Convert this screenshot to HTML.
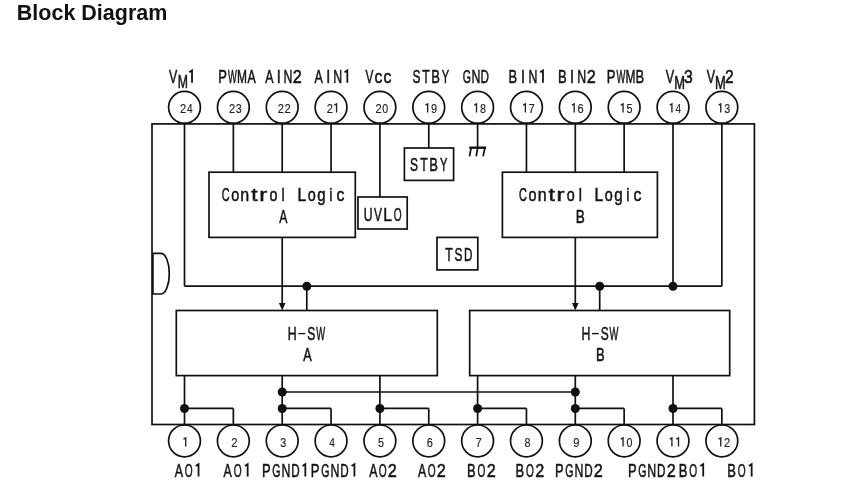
<!DOCTYPE html>
<html><head><meta charset="utf-8"><style>
html,body{margin:0;padding:0;background:#fff;width:860px;height:500px;overflow:hidden}
svg{display:block;will-change:transform}
.s line,.s rect,.s circle,.s path{fill:none;stroke:#111;stroke-width:1.7}
.s .d{fill:#111;stroke:none}
text{font-family:"Liberation Sans",sans-serif;fill:#141414}
.t{font-weight:normal;stroke:#141414;stroke-width:0.55}
.dash{fill:none;stroke:#141414;stroke-width:1.4}
.one{fill:none;stroke:#141414;stroke-width:1.8}
.title{font-weight:bold;font-size:21.5px;fill:#111}
.dg{fill:#222;stroke:#222;stroke-width:0.15}
.one2{fill:none;stroke:#222;stroke-width:1.35}
</style></head><body>
<svg width="860" height="500" viewBox="0 0 860 500">
<g class="s">
<rect x="152.00" y="123.90" width="602.40" height="300.60"/>
<path d="M152.0 253.3 H161 A8.3 20.35 0 0 1 161 294 H152.0"/>
<line x1="152.90" y1="253.30" x2="152.90" y2="294.00"/>
<circle cx="184.50" cy="107.30" r="15.9"/>
<circle cx="184.50" cy="440.90" r="15.9"/>
<circle cx="233.35" cy="107.30" r="15.9"/>
<circle cx="233.35" cy="440.90" r="15.9"/>
<circle cx="282.20" cy="107.30" r="15.9"/>
<circle cx="282.20" cy="440.90" r="15.9"/>
<circle cx="331.05" cy="107.30" r="15.9"/>
<circle cx="331.05" cy="440.90" r="15.9"/>
<circle cx="379.90" cy="107.30" r="15.9"/>
<circle cx="379.90" cy="440.90" r="15.9"/>
<circle cx="428.75" cy="107.30" r="15.9"/>
<circle cx="428.75" cy="440.90" r="15.9"/>
<circle cx="477.60" cy="107.30" r="15.9"/>
<circle cx="477.60" cy="440.90" r="15.9"/>
<circle cx="526.45" cy="107.30" r="15.9"/>
<circle cx="526.45" cy="440.90" r="15.9"/>
<circle cx="575.30" cy="107.30" r="15.9"/>
<circle cx="575.30" cy="440.90" r="15.9"/>
<circle cx="624.15" cy="107.30" r="15.9"/>
<circle cx="624.15" cy="440.90" r="15.9"/>
<circle cx="673.00" cy="107.30" r="15.9"/>
<circle cx="673.00" cy="440.90" r="15.9"/>
<circle cx="721.85" cy="107.30" r="15.9"/>
<circle cx="721.85" cy="440.90" r="15.9"/>
<line x1="184.50" y1="123.20" x2="184.50" y2="286.20"/>
<line x1="184.50" y1="286.20" x2="721.85" y2="286.20"/>
<line x1="721.85" y1="123.20" x2="721.85" y2="286.20"/>
<line x1="673.00" y1="123.20" x2="673.00" y2="286.20"/>
<line x1="233.35" y1="123.20" x2="233.35" y2="172.20"/>
<line x1="282.20" y1="123.20" x2="282.20" y2="172.20"/>
<line x1="331.05" y1="123.20" x2="331.05" y2="172.20"/>
<line x1="526.45" y1="123.20" x2="526.45" y2="172.20"/>
<line x1="575.30" y1="123.20" x2="575.30" y2="172.20"/>
<line x1="624.15" y1="123.20" x2="624.15" y2="172.20"/>
<line x1="379.90" y1="123.20" x2="379.90" y2="197.00"/>
<line x1="428.75" y1="123.20" x2="428.75" y2="148.00"/>
<line x1="477.60" y1="123.20" x2="477.60" y2="147.50"/>
<path d="M469.3 147.7 H486.1" style="stroke-width:2.4"/>
<path d="M471.1 147.7 L469.6 156.3" style="stroke-width:1.7"/>
<path d="M477.7 147.7 L476.2 156.3" style="stroke-width:1.7"/>
<path d="M484.9 147.7 L483.1 156.3" style="stroke-width:1.7"/>
<rect x="209.00" y="172.20" width="146.30" height="65.20"/>
<rect x="358.00" y="197.00" width="49.20" height="32.00"/>
<rect x="404.40" y="148.00" width="49.20" height="32.40"/>
<rect x="437.00" y="237.40" width="40.80" height="32.50"/>
<rect x="502.40" y="172.20" width="155.00" height="65.20"/>
<rect x="176.30" y="310.50" width="261.00" height="65.10"/>
<rect x="469.70" y="310.50" width="260.00" height="65.10"/>
<line x1="282.20" y1="237.40" x2="282.20" y2="304.50"/>
<path class="d" d="M278.90 303.00 L285.50 303.00 L282.20 310.50 Z"/>
<line x1="575.30" y1="237.40" x2="575.30" y2="304.50"/>
<path class="d" d="M572.00 303.00 L578.60 303.00 L575.30 310.50 Z"/>
<line x1="306.80" y1="286.20" x2="306.80" y2="310.50"/>
<circle class="d" cx="306.80" cy="286.20" r="4.5"/>
<line x1="599.70" y1="286.20" x2="599.70" y2="310.50"/>
<circle class="d" cx="599.70" cy="286.20" r="4.5"/>
<circle class="d" cx="673.00" cy="286.20" r="4.5"/>
<line x1="184.50" y1="375.60" x2="184.50" y2="424.50"/>
<line x1="184.50" y1="408.40" x2="233.35" y2="408.40"/>
<line x1="233.35" y1="408.40" x2="233.35" y2="424.50"/>
<circle class="d" cx="184.50" cy="408.50" r="4.5"/>
<line x1="282.20" y1="375.60" x2="282.20" y2="424.50"/>
<line x1="282.20" y1="408.40" x2="331.05" y2="408.40"/>
<line x1="331.05" y1="408.40" x2="331.05" y2="424.50"/>
<circle class="d" cx="282.20" cy="408.50" r="4.5"/>
<line x1="379.90" y1="375.60" x2="379.90" y2="424.50"/>
<line x1="379.90" y1="408.40" x2="428.75" y2="408.40"/>
<line x1="428.75" y1="408.40" x2="428.75" y2="424.50"/>
<circle class="d" cx="379.90" cy="408.50" r="4.5"/>
<line x1="477.60" y1="375.60" x2="477.60" y2="424.50"/>
<line x1="477.60" y1="408.40" x2="526.45" y2="408.40"/>
<line x1="526.45" y1="408.40" x2="526.45" y2="424.50"/>
<circle class="d" cx="477.60" cy="408.50" r="4.5"/>
<line x1="575.30" y1="375.60" x2="575.30" y2="424.50"/>
<line x1="575.30" y1="408.40" x2="624.15" y2="408.40"/>
<line x1="624.15" y1="408.40" x2="624.15" y2="424.50"/>
<circle class="d" cx="575.30" cy="408.50" r="4.5"/>
<line x1="673.00" y1="375.60" x2="673.00" y2="424.50"/>
<line x1="673.00" y1="408.40" x2="721.85" y2="408.40"/>
<line x1="721.85" y1="408.40" x2="721.85" y2="424.50"/>
<circle class="d" cx="673.00" cy="408.50" r="4.5"/>
<line x1="282.20" y1="392.00" x2="575.30" y2="392.00"/>
<circle class="d" cx="282.20" cy="392.00" r="4.5"/>
<circle class="d" cx="575.30" cy="392.00" r="4.5"/>
</g>
<text class="title" x="16.8" y="20.2">Block Diagram</text>
<text class="t" transform="translate(218.32 82.80) scale(0.675 1.000)" font-size="19.20">P</text>
<text class="t" transform="translate(228.01 82.80) scale(0.490 1.000)" font-size="19.20">W</text>
<text class="t" transform="translate(237.10 82.80) scale(0.623 1.000)" font-size="19.20">M</text>
<text class="t" transform="translate(247.58 82.80) scale(0.644 1.000)" font-size="19.20">A</text>
<text class="t" transform="translate(265.31 82.80) scale(0.644 1.000)" font-size="19.20">A</text>
<text class="t" transform="translate(276.72 82.80) scale(0.750 1.000)" font-size="19.20">I</text>
<text class="t" transform="translate(283.54 82.80) scale(0.643 1.000)" font-size="19.20">N</text>
<text class="t" transform="translate(292.77 82.80) scale(0.846 1.000)" font-size="19.20">2</text>
<text class="t" transform="translate(314.62 82.80) scale(0.644 1.000)" font-size="19.20">A</text>
<text class="t" transform="translate(326.27 82.80) scale(0.750 1.000)" font-size="19.20">I</text>
<text class="t" transform="translate(333.33 82.80) scale(0.643 1.000)" font-size="19.20">N</text>
<path class="one" d="M344.52 72.29 L347.32 70.49 V82.80"/>
<text class="t" transform="translate(365.59 82.80) scale(0.617 1.000)" font-size="19.20">V</text>
<text class="t" transform="translate(374.43 82.80) scale(0.821 0.920)" font-size="19.20">c</text>
<text class="t" transform="translate(383.38 82.80) scale(0.821 0.920)" font-size="19.20">c</text>
<text class="t" transform="translate(412.43 82.80) scale(0.624 1.000)" font-size="19.20">S</text>
<text class="t" transform="translate(422.35 82.80) scale(0.636 1.000)" font-size="19.20">T</text>
<text class="t" transform="translate(431.21 82.80) scale(0.675 1.000)" font-size="19.20">B</text>
<text class="t" transform="translate(441.69 82.80) scale(0.577 1.000)" font-size="19.20">Y</text>
<text class="t" transform="translate(462.80 82.80) scale(0.550 1.000)" font-size="19.20">G</text>
<text class="t" transform="translate(471.44 82.80) scale(0.643 1.000)" font-size="19.20">N</text>
<text class="t" transform="translate(480.62 82.80) scale(0.607 1.000)" font-size="19.20">D</text>
<text class="t" transform="translate(508.61 82.80) scale(0.675 1.000)" font-size="19.20">B</text>
<text class="t" transform="translate(521.07 82.80) scale(0.750 1.000)" font-size="19.20">I</text>
<text class="t" transform="translate(528.55 82.80) scale(0.643 1.000)" font-size="19.20">N</text>
<path class="one" d="M540.16 72.29 L542.96 70.49 V82.80"/>
<text class="t" transform="translate(558.01 82.80) scale(0.675 1.000)" font-size="19.20">B</text>
<text class="t" transform="translate(570.07 82.80) scale(0.750 1.000)" font-size="19.20">I</text>
<text class="t" transform="translate(577.16 82.80) scale(0.643 1.000)" font-size="19.20">N</text>
<text class="t" transform="translate(586.65 82.80) scale(0.846 1.000)" font-size="19.20">2</text>
<text class="t" transform="translate(606.68 82.80) scale(0.675 1.000)" font-size="19.20">P</text>
<text class="t" transform="translate(616.39 82.80) scale(0.490 1.000)" font-size="19.20">W</text>
<text class="t" transform="translate(625.49 82.80) scale(0.623 1.000)" font-size="19.20">M</text>
<text class="t" transform="translate(635.60 82.80) scale(0.675 1.000)" font-size="19.20">B</text>
<text class="t" transform="translate(169.09 82.80) scale(0.646 1.000)" font-size="19.20">V</text>
<text class="t" transform="translate(177.67 88.40) scale(0.680 1.000)" font-size="18.00">M</text>
<path class="one" d="M189.22 72.29 L192.02 70.49 V82.80"/>
<text class="t" transform="translate(665.77 82.80) scale(0.656 1.000)" font-size="19.20">V</text>
<text class="t" transform="translate(674.23 88.50) scale(0.717 1.000)" font-size="18.00">M</text>
<text class="t" transform="translate(683.99 82.80) scale(0.819 1.000)" font-size="19.20">3</text>
<text class="t" transform="translate(706.79 82.80) scale(0.650 1.000)" font-size="19.20">V</text>
<text class="t" transform="translate(714.97 88.50) scale(0.718 1.000)" font-size="18.00">M</text>
<text class="t" transform="translate(725.03 82.80) scale(0.812 1.000)" font-size="19.20">2</text>
<text class="t" transform="translate(174.74 476.50) scale(0.644 1.000)" font-size="19.20">A</text>
<text class="t" transform="translate(184.77 476.50) scale(0.526 1.000)" font-size="19.20">O</text>
<path class="one" d="M195.73 465.99 L198.53 464.19 V476.50"/>
<text class="t" transform="translate(223.60 476.50) scale(0.644 1.000)" font-size="19.20">A</text>
<text class="t" transform="translate(233.75 476.50) scale(0.526 1.000)" font-size="19.20">O</text>
<path class="one" d="M244.84 465.99 L247.64 464.19 V476.50"/>
<text class="t" transform="translate(262.01 476.50) scale(0.675 1.000)" font-size="19.20">P</text>
<text class="t" transform="translate(272.24 476.50) scale(0.550 1.000)" font-size="19.20">G</text>
<text class="t" transform="translate(281.46 476.50) scale(0.643 1.000)" font-size="19.20">N</text>
<text class="t" transform="translate(291.21 476.50) scale(0.607 1.000)" font-size="19.20">D</text>
<path class="one" d="M302.52 465.99 L305.32 464.19 V476.50"/>
<text class="t" transform="translate(310.84 476.50) scale(0.675 1.000)" font-size="19.20">P</text>
<text class="t" transform="translate(321.14 476.50) scale(0.550 1.000)" font-size="19.20">G</text>
<text class="t" transform="translate(330.42 476.50) scale(0.643 1.000)" font-size="19.20">N</text>
<text class="t" transform="translate(340.25 476.50) scale(0.607 1.000)" font-size="19.20">D</text>
<path class="one" d="M351.62 465.99 L354.42 464.19 V476.50"/>
<text class="t" transform="translate(369.31 476.50) scale(0.644 1.000)" font-size="19.20">A</text>
<text class="t" transform="translate(378.86 476.50) scale(0.526 1.000)" font-size="19.20">O</text>
<text class="t" transform="translate(387.63 476.50) scale(0.846 1.000)" font-size="19.20">2</text>
<text class="t" transform="translate(417.99 476.50) scale(0.644 1.000)" font-size="19.20">A</text>
<text class="t" transform="translate(427.77 476.50) scale(0.526 1.000)" font-size="19.20">O</text>
<text class="t" transform="translate(436.77 476.50) scale(0.846 1.000)" font-size="19.20">2</text>
<text class="t" transform="translate(467.03 476.50) scale(0.675 1.000)" font-size="19.20">B</text>
<text class="t" transform="translate(477.42 476.50) scale(0.526 1.000)" font-size="19.20">O</text>
<text class="t" transform="translate(486.63 476.50) scale(0.846 1.000)" font-size="19.20">2</text>
<text class="t" transform="translate(515.41 476.50) scale(0.675 1.000)" font-size="19.20">B</text>
<text class="t" transform="translate(525.96 476.50) scale(0.526 1.000)" font-size="19.20">O</text>
<text class="t" transform="translate(535.34 476.50) scale(0.846 1.000)" font-size="19.20">2</text>
<text class="t" transform="translate(555.08 476.50) scale(0.675 1.000)" font-size="19.20">P</text>
<text class="t" transform="translate(565.30 476.50) scale(0.550 1.000)" font-size="19.20">G</text>
<text class="t" transform="translate(574.51 476.50) scale(0.643 1.000)" font-size="19.20">N</text>
<text class="t" transform="translate(584.25 476.50) scale(0.607 1.000)" font-size="19.20">D</text>
<text class="t" transform="translate(593.83 476.50) scale(0.846 1.000)" font-size="19.20">2</text>
<text class="t" transform="translate(627.93 476.50) scale(0.675 1.000)" font-size="19.20">P</text>
<text class="t" transform="translate(638.14 476.50) scale(0.550 1.000)" font-size="19.20">G</text>
<text class="t" transform="translate(647.34 476.50) scale(0.643 1.000)" font-size="19.20">N</text>
<text class="t" transform="translate(657.08 476.50) scale(0.607 1.000)" font-size="19.20">D</text>
<text class="t" transform="translate(666.65 476.50) scale(0.846 1.000)" font-size="19.20">2</text>
<text class="t" transform="translate(678.66 476.50) scale(0.675 1.000)" font-size="19.20">B</text>
<text class="t" transform="translate(689.26 476.50) scale(0.526 1.000)" font-size="19.20">O</text>
<path class="one" d="M700.41 465.99 L703.21 464.19 V476.50"/>
<text class="t" transform="translate(727.25 476.50) scale(0.675 1.000)" font-size="19.20">B</text>
<text class="t" transform="translate(737.77 476.50) scale(0.526 1.000)" font-size="19.20">O</text>
<path class="one" d="M748.84 465.99 L751.64 464.19 V476.50"/>
<text class="t" transform="translate(221.69 201.40) scale(0.567 1.000)" font-size="19.20">C</text>
<text class="t" transform="translate(231.25 201.40) scale(0.750 0.920)" font-size="19.20">o</text>
<text class="t" transform="translate(240.36 201.40) scale(0.834 0.920)" font-size="19.20">n</text>
<text class="t" transform="translate(251.14 201.40) scale(1.183 0.920)" font-size="19.20">t</text>
<text class="t" transform="translate(259.35 201.40) scale(1.250 0.920)" font-size="19.20">r</text>
<text class="t" transform="translate(269.51 201.40) scale(0.750 0.920)" font-size="19.20">o</text>
<text class="t" transform="translate(281.47 201.40) scale(0.750 0.920)" font-size="19.20">l</text>
<text class="t" transform="translate(297.47 201.40) scale(0.815 1.000)" font-size="19.20">L</text>
<text class="t" transform="translate(307.76 201.40) scale(0.750 0.920)" font-size="19.20">o</text>
<text class="t" transform="translate(317.30 201.40) scale(0.788 0.920)" font-size="19.20">g</text>
<text class="t" transform="translate(329.30 201.40) scale(0.750 0.920)" font-size="19.20">i</text>
<text class="t" transform="translate(336.39 201.40) scale(0.821 0.920)" font-size="19.20">c</text>
<text class="t" transform="translate(279.16 222.70) scale(0.656 1.000)" font-size="18.60">A</text>
<text class="t" transform="translate(363.76 220.50) scale(0.633 1.000)" font-size="19.20">U</text>
<text class="t" transform="translate(374.06 220.50) scale(0.617 1.000)" font-size="19.20">V</text>
<text class="t" transform="translate(383.14 220.50) scale(0.815 1.000)" font-size="19.20">L</text>
<text class="t" transform="translate(393.81 220.50) scale(0.526 1.000)" font-size="19.20">O</text>
<text class="t" transform="translate(410.09 170.70) scale(0.624 1.000)" font-size="19.20">S</text>
<text class="t" transform="translate(420.21 170.70) scale(0.636 1.000)" font-size="19.20">T</text>
<text class="t" transform="translate(429.28 170.70) scale(0.675 1.000)" font-size="19.20">B</text>
<text class="t" transform="translate(439.96 170.70) scale(0.577 1.000)" font-size="19.20">Y</text>
<text class="t" transform="translate(445.15 261.10) scale(0.636 1.000)" font-size="19.20">T</text>
<text class="t" transform="translate(454.59 261.10) scale(0.624 1.000)" font-size="19.20">S</text>
<text class="t" transform="translate(463.89 261.10) scale(0.607 1.000)" font-size="19.20">D</text>
<text class="t" transform="translate(519.07 201.40) scale(0.567 1.000)" font-size="19.20">C</text>
<text class="t" transform="translate(528.60 201.40) scale(0.750 0.920)" font-size="19.20">o</text>
<text class="t" transform="translate(537.67 201.40) scale(0.834 0.920)" font-size="19.20">n</text>
<text class="t" transform="translate(548.42 201.40) scale(1.183 0.920)" font-size="19.20">t</text>
<text class="t" transform="translate(556.61 201.40) scale(1.250 0.920)" font-size="19.20">r</text>
<text class="t" transform="translate(566.73 201.40) scale(0.750 0.920)" font-size="19.20">o</text>
<text class="t" transform="translate(578.66 201.40) scale(0.750 0.920)" font-size="19.20">l</text>
<text class="t" transform="translate(594.60 201.40) scale(0.815 1.000)" font-size="19.20">L</text>
<text class="t" transform="translate(604.86 201.40) scale(0.750 0.920)" font-size="19.20">o</text>
<text class="t" transform="translate(614.36 201.40) scale(0.788 0.920)" font-size="19.20">g</text>
<text class="t" transform="translate(626.33 201.40) scale(0.750 0.920)" font-size="19.20">i</text>
<text class="t" transform="translate(633.39 201.40) scale(0.821 0.920)" font-size="19.20">c</text>
<text class="t" transform="translate(575.75 222.50) scale(0.735 1.000)" font-size="18.40">B</text>
<text class="t" transform="translate(287.79 340.20) scale(0.643 1.000)" font-size="19.20">H</text>
<path class="dash" d="M298.36 333.60 H305.16"/>
<text class="t" transform="translate(307.27 340.20) scale(0.624 1.000)" font-size="19.20">S</text>
<text class="t" transform="translate(316.33 340.20) scale(0.490 1.000)" font-size="19.20">W</text>
<text class="t" transform="translate(303.36 361.10) scale(0.687 1.000)" font-size="18.40">A</text>
<text class="t" transform="translate(581.61 340.20) scale(0.643 1.000)" font-size="19.20">H</text>
<path class="dash" d="M592.00 333.60 H598.80"/>
<text class="t" transform="translate(600.74 340.20) scale(0.624 1.000)" font-size="19.20">S</text>
<text class="t" transform="translate(609.62 340.20) scale(0.490 1.000)" font-size="19.20">W</text>
<text class="t" transform="translate(595.96 361.40) scale(0.704 1.000)" font-size="18.40">B</text>
<text class="dg" transform="translate(180.09 112.50) scale(0.823 0.948)" font-size="13.60">2</text>
<text class="dg" transform="translate(187.02 112.50) scale(0.744 0.962)" font-size="13.60">4</text>
<path class="one2" d="M183.50 439.20 L185.70 438.00 V446.60"/>
<text class="dg" transform="translate(228.94 112.50) scale(0.823 0.948)" font-size="13.60">2</text>
<text class="dg" transform="translate(235.69 112.50) scale(0.791 0.948)" font-size="13.60">3</text>
<text class="dg" transform="translate(231.24 446.60) scale(0.823 0.948)" font-size="13.60">2</text>
<text class="dg" transform="translate(277.79 112.50) scale(0.823 0.948)" font-size="13.60">2</text>
<text class="dg" transform="translate(284.39 112.50) scale(0.823 0.948)" font-size="13.60">2</text>
<text class="dg" transform="translate(280.24 446.60) scale(0.791 0.948)" font-size="13.60">3</text>
<text class="dg" transform="translate(326.64 112.50) scale(0.823 0.948)" font-size="13.60">2</text>
<path class="one2" d="M334.35 105.10 L336.55 103.90 V112.50"/>
<text class="dg" transform="translate(329.27 446.60) scale(0.744 0.962)" font-size="13.60">4</text>
<text class="dg" transform="translate(375.49 112.50) scale(0.823 0.948)" font-size="13.60">2</text>
<text class="dg" transform="translate(382.23 112.50) scale(0.784 0.948)" font-size="13.60">0</text>
<text class="dg" transform="translate(377.92 446.60) scale(0.791 0.962)" font-size="13.60">5</text>
<path class="one2" d="M425.45 105.10 L427.65 103.90 V112.50"/>
<text class="dg" transform="translate(430.98 112.50) scale(0.812 0.948)" font-size="13.60">9</text>
<text class="dg" transform="translate(426.64 446.60) scale(0.813 0.948)" font-size="13.60">6</text>
<path class="one2" d="M474.30 105.10 L476.50 103.90 V112.50"/>
<text class="dg" transform="translate(479.88 112.50) scale(0.799 0.948)" font-size="13.60">8</text>
<text class="dg" transform="translate(475.47 446.60) scale(0.825 0.962)" font-size="13.60">7</text>
<path class="one2" d="M523.15 105.10 L525.35 103.90 V112.50"/>
<text class="dg" transform="translate(528.62 112.50) scale(0.825 0.962)" font-size="13.60">7</text>
<text class="dg" transform="translate(524.43 446.60) scale(0.799 0.948)" font-size="13.60">8</text>
<path class="one2" d="M572.00 105.10 L574.20 103.90 V112.50"/>
<text class="dg" transform="translate(577.49 112.50) scale(0.813 0.948)" font-size="13.60">6</text>
<text class="dg" transform="translate(573.23 446.60) scale(0.812 0.948)" font-size="13.60">9</text>
<path class="one2" d="M620.85 105.10 L623.05 103.90 V112.50"/>
<text class="dg" transform="translate(626.47 112.50) scale(0.791 0.962)" font-size="13.60">5</text>
<path class="one2" d="M620.85 439.20 L623.05 438.00 V446.60"/>
<text class="dg" transform="translate(626.48 446.60) scale(0.784 0.948)" font-size="13.60">0</text>
<path class="one2" d="M669.70 105.10 L671.90 103.90 V112.50"/>
<text class="dg" transform="translate(675.52 112.50) scale(0.744 0.962)" font-size="13.60">4</text>
<path class="one2" d="M669.70 439.20 L671.90 438.00 V446.60"/>
<path class="one2" d="M676.30 439.20 L678.50 438.00 V446.60"/>
<path class="one2" d="M718.55 105.10 L720.75 103.90 V112.50"/>
<text class="dg" transform="translate(724.19 112.50) scale(0.791 0.948)" font-size="13.60">3</text>
<path class="one2" d="M718.55 439.20 L720.75 438.00 V446.60"/>
<text class="dg" transform="translate(724.04 446.60) scale(0.823 0.948)" font-size="13.60">2</text>
</svg>
</body></html>
